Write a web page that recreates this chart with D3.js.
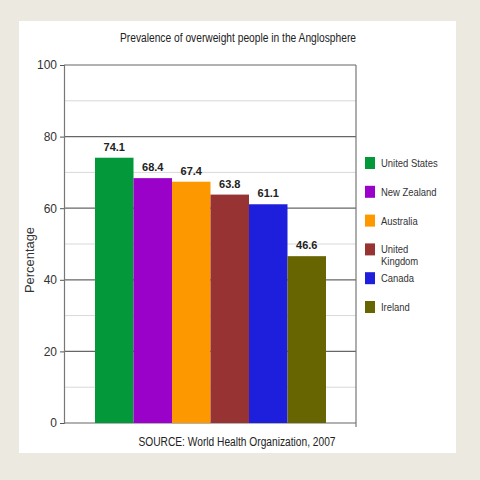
<!DOCTYPE html>
<html>
<head>
<meta charset="utf-8">
<script src="https://cdn.jsdelivr.net/npm/d3@7"></script>
<style>
html,body{margin:0;padding:0;background:#ECE9E0;}
svg{display:block;font-family:"Liberation Sans",Arial,sans-serif;}
</style>
</head>
<body>
<script>
const categories = ["United States","New Zealand","Australia","United Kingdom","Canada","Ireland"];
const legendLabels = [["United States"],["New Zealand"],["Australia"],["United","Kingdom"],["Canada"],["Ireland"]];
const values = [74.1, 68.4, 67.4, 63.8, 61.1, 46.6];
const colors = ["#03983A","#9B02C9","#FD9801","#983333","#1E1FDC","#676402"];
const majorTicks = [0,20,40,60,80,100];
const minorTicks = [10,30,50,70,90];
const title = "Prevalence of overweight people in the Anglosphere";
const source = "SOURCE: World Health Organization, 2007";
const yLabel = "Percentage";

const W = 480, H = 480;
const svg = d3.select("body").append("svg").attr("width",W).attr("height",H);
svg.append("rect").attr("width",W).attr("height",H).attr("fill","#ECE9E0");
svg.append("rect").attr("x",19).attr("y",21).attr("width",437).attr("height",432).attr("fill","#fff");

const plot = {l:64, r:356, t:65, b:423};
const y = d3.scaleLinear().domain([0,100]).range([plot.b, plot.t]);
const x = d3.scaleBand().domain(categories).range([95,326]).padding(0);

// minor gridlines
svg.append("g").selectAll("line").data(minorTicks).join("line")
  .attr("x1",plot.l).attr("x2",plot.r)
  .attr("y1",d=>y(d)).attr("y2",d=>y(d))
  .attr("stroke","#d8d8d8").attr("stroke-width",1);
// major gridlines
svg.append("g").selectAll("line").data(majorTicks).join("line")
  .attr("x1",plot.l).attr("x2",plot.r)
  .attr("y1",d=>y(d)).attr("y2",d=>y(d))
  .attr("stroke","#666").attr("stroke-width",1.2);

// bars
svg.append("g").selectAll("rect").data(values).join("rect")
  .attr("x",(d,i)=>x(categories[i]))
  .attr("width",x.bandwidth())
  .attr("y",d=>y(d))
  .attr("height",d=>y(0)-y(d))
  .attr("fill",(d,i)=>colors[i]);

// value labels
svg.append("g").selectAll("text").data(values).join("text")
  .attr("x",(d,i)=>x(categories[i])+x.bandwidth()/2)
  .attr("y",d=>y(d)-7)
  .attr("text-anchor","middle")
  .attr("font-size",11).attr("font-weight","bold").attr("fill","#222")
  .text(d=>d.toFixed(1));

// axes
const yAxis = d3.axisLeft(y).tickValues(majorTicks).tickSize(4).tickPadding(3);
const ga = svg.append("g").attr("transform",`translate(${plot.l},0)`).call(yAxis);
ga.select(".domain").attr("stroke","#777").attr("stroke-width",1.2);
ga.selectAll(".tick line").attr("stroke","#555");
ga.selectAll(".tick text").attr("font-size",12).attr("fill","#333").attr("font-family","Liberation Sans, Arial, sans-serif");
// right border
svg.append("line").attr("x1",plot.r).attr("x2",plot.r).attr("y1",plot.t).attr("y2",plot.b+4)
  .attr("stroke","#777").attr("stroke-width",1.2);

// title
svg.append("text").attr("x",238).attr("y",42).attr("text-anchor","middle")
  .attr("font-size",12).attr("fill","#222")
  .attr("textLength",236).attr("lengthAdjust","spacingAndGlyphs").text(title);
// source
svg.append("text").attr("x",237).attr("y",446).attr("text-anchor","middle")
  .attr("font-size",12).attr("fill","#222")
  .attr("textLength",197).attr("lengthAdjust","spacingAndGlyphs").text(source);
// y label
svg.append("text").attr("transform","translate(34,260) rotate(-90)")
  .attr("text-anchor","middle").attr("font-size",12.5).attr("fill","#333")
  .attr("textLength",66).attr("lengthAdjust","spacingAndGlyphs").text(yLabel);

// legend
const lg = svg.append("g");
const legY = d3.scalePoint().domain(categories).range([163,307]);
categories.forEach((c,i)=>{
  const yy = legY(c);
  lg.append("rect").attr("x",365).attr("y",yy-6).attr("width",10).attr("height",12).attr("fill",colors[i]);
  const t = lg.append("text").attr("font-size",10.5).attr("fill","#333")
    .attr("transform",`translate(381,${yy+4}) scale(0.9,1)`);
  legendLabels[i].forEach((ln,j)=>{
    t.append("tspan").attr("x",0).attr("dy",j===0?0:12).text(ln);
  });
});
</script>
</body>
</html>
